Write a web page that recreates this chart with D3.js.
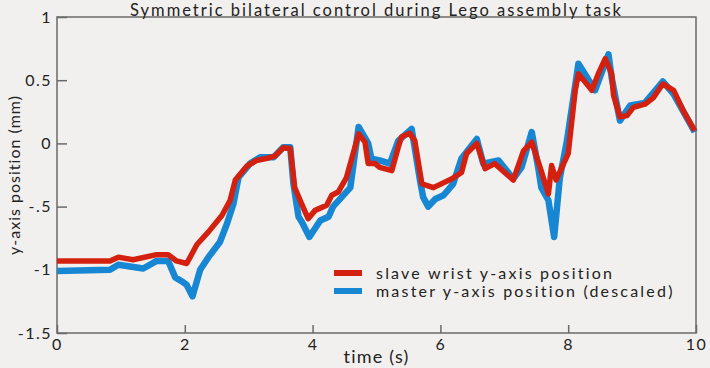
<!DOCTYPE html>
<html>
<head>
<meta charset="utf-8">
<script src="https://cdn.jsdelivr.net/npm/d3@7"></script>
<style>
  body { margin: 0; background: #f2f0ee; }
  svg { display: block; font-family: Lato, "Open Sans", sans-serif; }
  .axis path, .axis line { stroke: #6a6a6a; stroke-width: 1.5; }
  .axis text { fill: #222; font-size: 16px; letter-spacing: 1.5px; font-family: Lato, sans-serif; }
</style>
</head>
<body>
<div id="chart"></div>
<script>
const title = "Symmetric bilateral control during Lego assembly task";
const xTicks = [0, 2, 4, 6, 8, 10];
const yTicks = [-1.5, -1, -0.5, 0, 0.5, 1];
const yTickLabels = ["-1.5", "-1", "-.5", "0", "0.5", "1"];

// slave wrist (red)
const slaveT = [0, 0.83, 0.96, 1.19, 1.56, 1.74, 1.87, 2.03, 2.19, 2.37, 2.58, 2.71, 2.79, 2.97, 3.12, 3.31, 3.41, 3.54, 3.65, 3.72, 3.83, 3.93, 4.04, 4.22, 4.30, 4.40, 4.53, 4.72, 4.82, 4.87, 4.98, 5.05, 5.24, 5.34, 5.39, 5.52, 5.60, 5.71, 5.89, 6.18, 6.33, 6.41, 6.57, 6.70, 6.85, 7.14, 7.30, 7.43, 7.56, 7.69, 7.74, 7.81, 8.00, 8.11, 8.16, 8.37, 8.47, 8.58, 8.68, 8.71, 8.81, 8.92, 9.02, 9.20, 9.33, 9.48, 9.65, 9.80, 9.98];
const slaveY = [-0.93, -0.93, -0.90, -0.92, -0.88, -0.88, -0.93, -0.95, -0.80, -0.70, -0.57, -0.45, -0.29, -0.18, -0.135, -0.115, -0.10, -0.035, -0.04, -0.35, -0.48, -0.595, -0.53, -0.49, -0.41, -0.385, -0.27, 0.075, 0.01, -0.16, -0.16, -0.19, -0.215, -0.03, 0.05, 0.08, 0.02, -0.32, -0.35, -0.28, -0.23, -0.08, 0.0, -0.20, -0.16, -0.29, -0.06, 0.01, -0.19, -0.40, -0.175, -0.29, -0.08, 0.42, 0.55, 0.42, 0.55, 0.67, 0.55, 0.38, 0.21, 0.22, 0.285, 0.31, 0.36, 0.47, 0.42, 0.26, 0.10];

// master descaled (blue)
const masterT = [0, 0.83, 0.96, 1.35, 1.56, 1.74, 1.85, 1.95, 2.03, 2.12, 2.24, 2.37, 2.55, 2.66, 2.76, 2.84, 3.02, 3.18, 3.39, 3.54, 3.65, 3.70, 3.78, 3.83, 3.95, 4.12, 4.25, 4.32, 4.59, 4.72, 4.87, 4.92, 5.05, 5.21, 5.34, 5.55, 5.68, 5.73, 5.81, 5.92, 6.05, 6.20, 6.33, 6.57, 6.67, 6.91, 7.14, 7.27, 7.43, 7.53, 7.58, 7.69, 7.78, 7.87, 7.98, 8.16, 8.42, 8.63, 8.68, 8.81, 8.97, 9.20, 9.48, 9.65, 9.98];
const masterY = [-1.01, -1.0, -0.96, -0.99, -0.93, -0.93, -1.06, -1.09, -1.12, -1.21, -1.0, -0.90, -0.78, -0.635, -0.48, -0.27, -0.16, -0.11, -0.11, -0.03, -0.03, -0.32, -0.58, -0.62, -0.74, -0.61, -0.58, -0.50, -0.35, 0.13, 0.0, -0.12, -0.135, -0.16, 0.02, 0.115, -0.29, -0.425, -0.50, -0.44, -0.41, -0.32, -0.12, 0.035, -0.16, -0.135, -0.28, -0.19, 0.09, -0.19, -0.35, -0.45, -0.74, -0.27, 0.02, 0.63, 0.42, 0.705, 0.52, 0.18, 0.30, 0.32, 0.49, 0.39, 0.09];

const seriesNames = ["slave wrist y-axis position", "master y-axis position (descaled)"];
const seriesColors = ["#d3200f", "#1787d4"];

const width = 710, height = 368;
const margin = {top: 17, right: 14, bottom: 35, left: 57};
const innerW = width - margin.left - margin.right;
const innerH = height - margin.top - margin.bottom;

const svg = d3.select('#chart').append('svg')
  .attr('width', width)
  .attr('height', height);

svg.append('rect').attr('width', width).attr('height', height).attr('fill', '#f2f0ee');

const g = svg.append('g')
  .attr('transform', 'translate(' + margin.left + ',' + margin.top + ')');

const x = d3.scaleLinear().domain([0, 10]).range([0, innerW]);
const y = d3.scaleLinear().domain([-1.5, 1]).range([innerH, 0]);

// frame
g.append('rect')
  .attr('width', innerW).attr('height', innerH)
  .attr('fill', 'none').attr('stroke', '#6a6a6a').attr('stroke-width', 1.5);

g.append('g').attr('class', 'axis')
  .attr('transform', 'translate(0,' + innerH + ')')
  .call(d3.axisBottom(x).tickValues(xTicks).tickSize(-8).tickPadding(6).tickFormat(d3.format('d')))
  .call(s => s.select('.domain').remove());

g.append('g').attr('class', 'axis')
  .call(d3.axisLeft(y).tickValues(yTicks).tickSize(-10).tickPadding(5)
    .tickFormat((d, i) => yTickLabels[i]))
  .call(s => s.select('.domain').remove());

const line = d3.line()
  .x(d => x(d[0]))
  .y(d => y(d[1]));

const master = masterT.map((t, i) => [t, masterY[i]]);
const slave = slaveT.map((t, i) => [t, slaveY[i]]);

g.append('path').datum(master)
  .attr('d', line)
  .attr('fill', 'none').attr('stroke', seriesColors[1])
  .attr('stroke-width', 6.5).attr('stroke-linejoin', 'round');

g.append('path').datum(slave)
  .attr('d', line)
  .attr('fill', 'none').attr('stroke', seriesColors[0])
  .attr('stroke-width', 5.5).attr('stroke-linejoin', 'round');

// legend
const legend = svg.append('g').attr('transform', 'translate(334,273)');
seriesNames.forEach(function(name, i) {
  legend.append('line')
    .attr('x1', 0).attr('x2', 28)
    .attr('y1', i * 18).attr('y2', i * 18)
    .attr('stroke', seriesColors[i]).attr('stroke-width', 6);
  legend.append('text')
    .attr('x', 42).attr('y', i * 18).attr('dy', '0.35em')
    .attr('font-size', 16).attr('letter-spacing', 2.2).attr('fill', '#222')
    .text(name);
});

// titles
svg.append('text')
  .attr('x', margin.left + innerW / 2).attr('y', 16)
  .attr('text-anchor', 'middle').attr('font-size', 16.5).attr('letter-spacing', 2).attr('fill', '#222')
  .text(title);

svg.append('text')
  .attr('x', margin.left + innerW / 2).attr('y', 363)
  .attr('text-anchor', 'middle').attr('font-size', 18).attr('letter-spacing', 1.2).attr('fill', '#222')
  .text('time (s)');

svg.append('text')
  .attr('transform', 'translate(20,' + (margin.top + innerH / 2) + ')rotate(-90)')
  .attr('text-anchor', 'middle').attr('font-size', 16).attr('letter-spacing', 1).attr('fill', '#222')
  .text('y-axis position (mm)');
</script>
</body>
</html>
